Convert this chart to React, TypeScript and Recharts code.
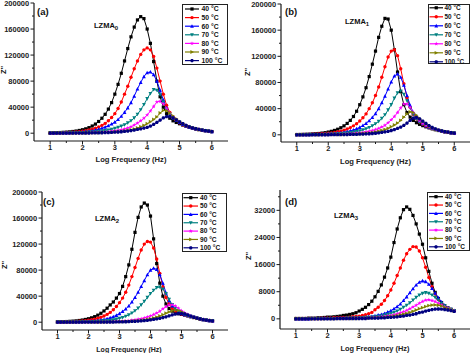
import React from 'react';
import { LineChart, Line, XAxis, YAxis } from 'recharts';

// log frequency (Hz) sampling, shared by every series
const logFreq = [
  1.0, 1.1, 1.2, 1.3, 1.4, 1.5, 1.6, 1.7, 1.8, 1.9,
  2.0, 2.1, 2.2, 2.3, 2.4, 2.5, 2.6, 2.7, 2.8, 2.9,
  3.0, 3.1, 3.2, 3.3, 3.4, 3.5, 3.6, 3.7, 3.8, 3.9,
  4.0, 4.1, 4.2, 4.3, 4.4, 4.5, 4.6, 4.7, 4.8, 4.9,
  5.0, 5.1, 5.2, 5.3, 5.4, 5.5, 5.6, 5.7, 5.8, 5.9,
  6.0,
];

const temps = ['40 °C', '50 °C', '60 °C', '70 °C', '80 °C', '90 °C', '100 °C'];
const colors = ['#000000', '#ff0000', '#0000ff', '#008080', '#ff00ff', '#808000', '#000080'];

const xTicks = [1, 1.5, 2, 2.5, 3, 3.5, 4, 4.5, 5, 5.5, 6];
const yTicksBig = [0, 20000, 40000, 60000, 80000, 100000, 120000, 140000, 160000, 180000, 200000];
const yTicksSmall = [0, 4000, 8000, 12000, 16000, 20000, 24000, 28000, 32000, 36000];

// Z'' values in units of 1000
// (a) LZMA0
const a40 = [0.5, 0.6, 0.8, 1, 1.3, 1.6, 2, 2.6, 3.3, 4.2, 5.3, 6.7, 8.5, 11, 14, 18, 23, 29, 37, 47, 60, 75, 92, 111, 130, 148, 163, 174, 179, 176, 160, 138, 110, 80, 56, 40, 30, 23, 19, 16.5, 14.5, 12.5, 10.8, 9.2, 7.8, 6.6, 5.5, 4.6, 3.8, 3.1, 2.5];
const a50 = [0.3, 0.4, 0.5, 0.6, 0.8, 1, 1.2, 1.5, 1.9, 2.4, 3, 3.8, 4.8, 6, 7.6, 9.6, 12, 15, 19, 24, 30, 38, 48, 60, 72, 86, 99, 111, 121, 128, 131, 128, 118, 100, 80, 60, 43, 32, 25, 20, 16, 13, 11, 9.3, 7.9, 6.7, 5.6, 4.7, 3.9, 3.1, 2.5];
const a60 = [0.2, 0.2, 0.3, 0.4, 0.5, 0.6, 0.7, 0.9, 1.1, 1.4, 2, 2.5, 3.1, 3.9, 4.9, 6.1, 7.6, 9.4, 11.6, 14.1, 17, 21, 26, 32, 39, 47, 57, 68, 78, 87, 93, 94, 90, 80, 66, 51, 39, 30, 24, 20, 16.5, 13.5, 11.2, 9.4, 8, 6.8, 5.7, 4.7, 3.9, 3.1, 2.5];
const a70 = [0.1, 0.1, 0.2, 0.2, 0.3, 0.3, 0.4, 0.5, 0.6, 0.8, 1, 1.2, 1.5, 1.8, 2.2, 2.7, 3.3, 4, 4.9, 6, 7.3, 8.9, 10.8, 13, 15.7, 19, 23.5, 29, 36, 44, 53, 61, 67, 66, 59, 48, 37, 29, 24, 20, 17, 14, 11.5, 9.5, 8, 6.8, 5.7, 4.7, 3.9, 3.1, 2.5];
const a80 = [0.1, 0.1, 0.1, 0.1, 0.2, 0.2, 0.2, 0.3, 0.3, 0.4, 0.5, 0.6, 0.7, 0.9, 1.1, 1.3, 1.6, 2, 2.4, 3, 3.6, 4.4, 5.4, 6.6, 8, 10, 12.5, 15.5, 19, 23, 28, 34, 41, 48, 49, 45, 38, 31, 25, 21, 17.5, 14.5, 12, 9.8, 8.1, 6.8, 5.7, 4.7, 3.9, 3.1, 2.5];
const a90 = [0, 0, 0.1, 0.1, 0.1, 0.1, 0.1, 0.2, 0.2, 0.2, 0.3, 0.3, 0.4, 0.5, 0.6, 0.7, 0.9, 1.1, 1.3, 1.6, 2, 2.4, 2.9, 3.6, 4.4, 5.4, 6.6, 8.1, 9.9, 12, 14.6, 17.6, 21, 25, 31, 35, 34.5, 31, 26.5, 22, 18, 15, 12.3, 10, 8.2, 6.9, 5.7, 4.7, 3.9, 3.1, 2.5];
const a100 = [0, 0, 0, 0, 0.1, 0.1, 0.1, 0.1, 0.1, 0.1, 0.2, 0.3, 0.3, 0.4, 0.5, 0.6, 0.7, 0.9, 1, 1.2, 1.5, 1.8, 2.2, 2.7, 3.3, 4, 4.8, 5.7, 6.7, 7.8, 9, 11, 13.5, 16.5, 20, 23.5, 25.5, 25.5, 23.5, 20.5, 17.5, 14.5, 12, 9.8, 8.1, 6.8, 5.7, 4.7, 3.9, 3.1, 2.5];

// (b) LZMA1
const b40 = [0.4, 0.5, 0.6, 0.8, 1, 1.3, 1.6, 2, 2.6, 3.3, 4.2, 5.3, 6.7, 8.5, 10.8, 13.7, 17.4, 22, 28, 36, 46, 58, 72, 89, 108, 128, 149, 166, 178, 177, 160, 130, 96, 66, 46, 34, 27, 22, 18.5, 16, 14, 12.2, 10.6, 9.1, 7.8, 6.6, 5.5, 4.6, 3.8, 3.1, 2.5];
const b50 = [0.3, 0.3, 0.4, 0.5, 0.6, 0.8, 1, 1.2, 1.5, 1.9, 2.4, 3, 3.7, 4.6, 5.7, 7.1, 8.8, 11, 13.7, 17, 21, 26, 32, 40, 49, 60, 73, 88, 104, 119, 128, 130, 121, 101, 78, 57, 42, 31, 24, 19.5, 16, 13.3, 11.2, 9.5, 8, 6.8, 5.7, 4.7, 3.9, 3.1, 2.5];
const b60 = [0.2, 0.2, 0.3, 0.3, 0.4, 0.5, 0.6, 0.7, 0.9, 1.1, 1.4, 1.7, 2.1, 2.6, 3.2, 4, 4.9, 6.1, 7.5, 9.3, 11.5, 14.2, 17.5, 21.5, 26.5, 32.5, 40, 49, 59, 70, 81, 90, 93, 88, 76, 60, 45, 34, 26, 21, 17, 14, 11.6, 9.7, 8.1, 6.8, 5.7, 4.7, 3.9, 3.1, 2.5];
const b70 = [0.1, 0.1, 0.2, 0.2, 0.2, 0.3, 0.3, 0.4, 0.5, 0.6, 0.8, 1, 1.2, 1.5, 1.8, 2.2, 2.7, 3.3, 4.1, 5, 6.1, 7.5, 9.2, 11.2, 13.7, 16.8, 20.5, 25, 30.5, 38, 46, 56, 64, 67, 62, 52, 41, 31, 24, 19.5, 17, 14.5, 12, 9.9, 8.2, 6.9, 5.7, 4.7, 3.9, 3.1, 2.5];
const b80 = [0.1, 0.1, 0.1, 0.1, 0.1, 0.2, 0.2, 0.2, 0.3, 0.3, 0.4, 0.5, 0.6, 0.7, 0.9, 1.1, 1.3, 1.6, 2, 2.4, 3, 3.6, 4.4, 5.4, 6.6, 8, 9.8, 12, 14.6, 18.5, 23, 28, 34, 41, 47, 47, 42, 34, 27, 21.5, 17.5, 14.5, 12.2, 10.1, 8.4, 7, 5.8, 4.8, 3.9, 3.1, 2.5];
const b90 = [0, 0, 0.1, 0.1, 0.1, 0.1, 0.1, 0.1, 0.2, 0.2, 0.2, 0.3, 0.3, 0.4, 0.5, 0.6, 0.7, 0.9, 1.1, 1.3, 1.6, 2, 2.4, 2.9, 3.6, 4.4, 5.4, 6.6, 8.1, 9.9, 12.5, 15, 18, 22, 27, 32, 35, 34, 30, 25, 20.5, 16.5, 13, 10.5, 8.5, 7, 5.8, 4.8, 3.9, 3.1, 2.5];
const b100 = [0, 0, 0, 0, 0, 0.1, 0.1, 0.1, 0.1, 0.1, 0.1, 0.2, 0.2, 0.2, 0.3, 0.3, 0.4, 0.5, 0.6, 0.7, 0.9, 1.1, 1.3, 1.6, 2, 2.4, 3, 3.6, 4.4, 5.4, 6.6, 8, 9.7, 11.8, 14.5, 18, 22, 25.5, 26.5, 24.5, 21, 17.5, 14, 11.2, 9, 7.3, 6, 4.9, 4, 3.2, 2.5];

// (c) LZMA2
const c40 = [0.5, 0.6, 0.8, 1, 1.3, 1.6, 2, 2.6, 3.3, 4.2, 5.3, 6.7, 8.5, 10.8, 13.7, 17.3, 21.5, 26.5, 31, 37, 44, 55, 70, 88, 112, 138, 161, 177, 183, 180, 163, 128, 90, 60, 40, 28, 21, 17, 14.5, 13, 12, 11, 9.8, 8.5, 7.2, 6, 5, 4, 3.2, 2.5, 2];
const c50 = [0.3, 0.4, 0.5, 0.6, 0.7, 0.9, 1.1, 1.4, 1.8, 2.3, 2.9, 3.7, 4.7, 6, 7.6, 9.6, 12, 15, 19, 24, 30, 37, 46, 57, 70, 84, 98, 111, 120, 124, 123, 114, 97, 75, 54, 38, 28, 21, 17, 14.5, 12.5, 11.2, 9.9, 8.6, 7.3, 6.1, 5, 4, 3.2, 2.5, 2];
const c60 = [0.2, 0.2, 0.2, 0.3, 0.4, 0.5, 0.6, 0.7, 0.9, 1.1, 1.4, 1.7, 2.2, 2.7, 3.4, 4.3, 5.4, 6.8, 8.5, 10.6, 13.2, 16.4, 20.3, 25, 31, 38, 46, 55, 64, 73, 80, 83, 81, 73, 60, 45, 33, 25, 19.5, 16, 13.3, 11.6, 10.1, 8.7, 7.4, 6.2, 5, 4, 3.2, 2.5, 2];
const c70 = [0.1, 0.1, 0.1, 0.2, 0.2, 0.2, 0.3, 0.3, 0.4, 0.5, 0.6, 0.8, 1, 1.2, 1.5, 1.9, 2.4, 3, 3.7, 4.6, 5.8, 7.2, 9, 11.2, 14, 17.4, 21.5, 26.5, 32, 38, 44, 49, 53, 54, 51, 44, 35, 27, 21, 17, 14, 12, 10.3, 8.8, 7.5, 6.2, 5, 4, 3.2, 2.5, 2];
const c80 = [0, 0, 0, 0.1, 0.1, 0.1, 0.1, 0.1, 0.1, 0.2, 0.2, 0.2, 0.3, 0.3, 0.4, 0.5, 0.6, 0.7, 0.9, 1.1, 1.3, 1.6, 2, 2.4, 3, 3.6, 4.4, 5.4, 6.6, 8, 9.7, 11.7, 14, 16.7, 20.5, 24, 26.5, 27, 25, 21.5, 17.5, 14.5, 11.8, 9.6, 7.8, 6.3, 5.1, 4.1, 3.2, 2.5, 2];
const c90 = [0, 0, 0, 0, 0, 0.1, 0.1, 0.1, 0.1, 0.1, 0.1, 0.1, 0.2, 0.2, 0.2, 0.3, 0.3, 0.4, 0.5, 0.6, 0.7, 0.9, 1.1, 1.3, 1.6, 2, 2.4, 3, 3.6, 4.4, 5.3, 6.4, 7.8, 9.5, 11.5, 13.7, 15.8, 17.5, 18.5, 18, 16, 13.5, 11, 8.8, 7.1, 5.8, 4.8, 3.9, 3.1, 2.5, 2];
const c100 = [0, 0, 0, 0, 0, 0, 0.1, 0.1, 0.1, 0.1, 0.1, 0.1, 0.1, 0.1, 0.2, 0.2, 0.2, 0.3, 0.3, 0.4, 0.5, 0.6, 0.7, 0.9, 1.1, 1.3, 1.6, 2, 2.4, 2.9, 3.5, 4.2, 5, 6, 7.1, 8.3, 9.7, 11.1, 12.4, 13.3, 13.5, 12.8, 11.2, 9.3, 7.6, 6.2, 5, 4, 3.2, 2.5, 2];

// (d) LZMA3
const d40 = [0.1, 0.1, 0.1, 0.1, 0.2, 0.2, 0.2, 0.3, 0.3, 0.4, 0.5, 0.5, 0.6, 0.7, 0.8, 1, 1.1, 1.3, 1.5, 1.8, 2.3, 2.8, 3.4, 4.2, 5.2, 6.5, 8.1, 10, 12.3, 15, 18.2, 22.5, 26.5, 29.8, 32.2, 33, 32.3, 30.5, 28, 25, 22, 18, 14, 10.5, 7.8, 6, 4.8, 3.9, 3.3, 2.8, 2.4];
const d50 = [0.1, 0.1, 0.1, 0.1, 0.1, 0.1, 0.1, 0.1, 0.2, 0.2, 0.2, 0.2, 0.3, 0.3, 0.3, 0.4, 0.4, 0.5, 0.6, 0.7, 0.8, 1, 1.2, 1.5, 1.9, 2.7, 3.4, 4.3, 5.4, 6.8, 8.5, 10.5, 12.8, 15, 17.3, 19.2, 20.5, 21.3, 21.2, 20, 18, 15.2, 12.2, 9.5, 7.3, 5.7, 4.6, 3.8, 3.2, 2.8, 2.4];
const d60 = [0, 0, 0, 0, 0, 0.1, 0.1, 0.1, 0.1, 0.1, 0.1, 0.1, 0.1, 0.1, 0.2, 0.2, 0.2, 0.2, 0.3, 0.3, 0.4, 0.4, 0.5, 0.6, 0.7, 0.9, 1.1, 1.3, 1.6, 2, 2.4, 3, 3.6, 4.4, 5.4, 6.5, 7.7, 8.9, 10, 10.8, 11.2, 11, 10.2, 9, 7.6, 6.2, 5, 4, 3.3, 2.8, 2.4];
const d70 = [0, 0, 0, 0, 0, 0, 0, 0.1, 0.1, 0.1, 0.1, 0.1, 0.1, 0.1, 0.1, 0.1, 0.2, 0.2, 0.2, 0.2, 0.3, 0.3, 0.4, 0.4, 0.5, 0.6, 0.7, 0.9, 1.1, 1.3, 1.6, 1.9, 2.3, 2.8, 3.4, 4, 4.7, 5.5, 6.3, 7, 7.5, 7.7, 7.5, 7, 6.3, 5.5, 4.6, 3.8, 3.2, 2.8, 2.4];
const d80 = [0, 0, 0, 0, 0, 0, 0, 0, 0, 0.1, 0.1, 0.1, 0.1, 0.1, 0.1, 0.1, 0.1, 0.1, 0.2, 0.2, 0.2, 0.2, 0.3, 0.3, 0.4, 0.4, 0.5, 0.6, 0.7, 0.9, 1, 1.2, 1.5, 1.8, 2.1, 2.5, 3, 3.5, 4, 4.6, 5.1, 5.5, 5.6, 5.4, 5.1, 4.6, 4, 3.5, 3.1, 2.7, 2.4];
const d90 = [0, 0, 0, 0, 0, 0, 0, 0, 0, 0, 0.1, 0.1, 0.1, 0.1, 0.1, 0.1, 0.1, 0.1, 0.1, 0.1, 0.1, 0.2, 0.2, 0.2, 0.3, 0.3, 0.4, 0.4, 0.5, 0.6, 0.7, 0.8, 1, 1.2, 1.4, 1.6, 1.9, 2.2, 2.6, 3, 3.3, 3.6, 3.9, 4.05, 4.1, 4, 3.8, 3.4, 3, 2.7, 2.3];
const d100 = [0, 0, 0, 0, 0, 0, 0, 0, 0, 0, 0, 0, 0, 0.1, 0.1, 0.1, 0.1, 0.1, 0.1, 0.1, 0.1, 0.1, 0.1, 0.2, 0.2, 0.2, 0.2, 0.3, 0.3, 0.4, 0.4, 0.5, 0.6, 0.7, 0.8, 1, 1.1, 1.3, 1.5, 1.8, 2, 2.3, 2.5, 2.7, 2.85, 2.9, 2.85, 2.75, 2.6, 2.4, 2.2];

const FONT = '"Liberation Sans", Arial, sans-serif';
const AXIS = '#1a1a1a';

const toRows = (series: number[][]) =>
  logFreq.map((x, i) => {
    const row: Record<string, number> = { x };
    series.forEach((s, k) => {
      row[`t${k}`] = s[i] * 1000;
    });
    return row;
  });

// panel layout: chart box, plot margins and annotation spots
const panels = [
  {
    id: 'a', sub: '0', series: [a40, a50, a60, a70, a80, a90, a100],
    left: 0, top: 0, w: 237, h: 176, yW: 34, mTop: 3, mRight: 9, xH: 35,
    yDomain: [-12000, 200000], yTicks: yTicksBig, yMajor: 40000,
    tagX: 37, tagY: 15, nameX: 94, nameY: 28, zX: 6, zY: 70, xlDy: 21, xlDx: 0, xlFs: 7.6,
    lg: { left: 182, top: 4, w: 46, h: 61, first: 5, step: 8.6, lx0: 3, lx1: 17, tx: 19.5, fs: 6.8 },
  },
  {
    id: 'b', sub: '1', series: [b40, b50, b60, b70, b80, b90, b100],
    left: 237, top: 0, w: 237, h: 176, yW: 44, mTop: 4, mRight: 4, xH: 34,
    yDomain: [-11000, 200000], yTicks: yTicksBig, yMajor: 40000,
    tagX: 285, tagY: 15, nameX: 345, nameY: 24, zX: 250, zY: 72, xlDy: 22, xlDx: 0, xlFs: 7.6,
    lg: { left: 428, top: 4, w: 42, h: 60, first: 3.8, step: 9, lx0: 1.5, lx1: 15, tx: 16.5, fs: 6.4 },
  },
  {
    id: 'c', sub: '2', series: [c40, c50, c60, c70, c80, c90, c100],
    left: 0, top: 176, w: 237, h: 177, yW: 42, mTop: 16, mRight: 9, xH: 23,
    yDomain: [-12000, 200000], yTicks: yTicksBig, yMajor: 40000,
    tagX: 43, tagY: 205, nameX: 95, nameY: 221, zX: 7, zY: 265, xlDy: 21.5, xlDx: -6, xlFs: 7,
    lg: { left: 182, top: 193, w: 45, h: 59, first: 4.7, step: 8.35, lx0: 1.5, lx1: 16, tx: 18, fs: 6.6 },
  },
  {
    id: 'd', sub: '3', series: [d40, d50, d60, d70, d80, d90, d100],
    left: 237, top: 176, w: 237, h: 177, yW: 43, mTop: 14, mRight: 4, xH: 24,
    yDomain: [-3000, 38000], yTicks: yTicksSmall, yMajor: 8000,
    tagX: 285, tagY: 205, nameX: 334, nameY: 218, zX: 251, zY: 256, xlDy: 21.5, xlDx: 0, xlFs: 7.4,
    lg: { left: 427, top: 192, w: 43, h: 59, first: 4.7, step: 8.35, lx0: 2, lx1: 16, tx: 18, fs: 6.5 },
  },
];

const Marker = ({ shape, cx, cy, color }: { shape: number; cx: number; cy: number; color: string }) => {
  const s = 1.6;
  if (cx == null || cy == null) return null;
  if (shape === 0) return <rect x={cx - s} y={cy - s} width={2 * s} height={2 * s} fill={color} />;
  if (shape === 1) return <circle cx={cx} cy={cy} r={s + 0.1} fill={color} />;
  if (shape === 2)
    return <polygon points={`${cx},${cy - s - 0.4} ${cx + s + 0.3},${cy + s} ${cx - s - 0.3},${cy + s}`} fill={color} />;
  if (shape === 3)
    return <polygon points={`${cx},${cy + s + 0.4} ${cx + s + 0.3},${cy - s} ${cx - s - 0.3},${cy - s}`} fill={color} />;
  if (shape === 4) {
    const pts: string[] = [];
    for (let k = 0; k < 10; k++) {
      const r = k % 2 === 0 ? 2.2 : 0.9;
      const a = (Math.PI / 5) * k - Math.PI / 2;
      pts.push(`${cx + r * Math.cos(a)},${cy + r * Math.sin(a)}`);
    }
    return <polygon points={pts.join(' ')} fill={color} />;
  }
  if (shape === 5)
    return <polygon points={`${cx + s + 0.4},${cy} ${cx - s},${cy - s - 0.3} ${cx - s},${cy + s + 0.3}`} fill={color} />;
  const pts: string[] = [];
  for (let k = 0; k < 6; k++) {
    const a = (Math.PI / 3) * k;
    pts.push(`${cx + 1.9 * Math.cos(a)},${cy + 1.9 * Math.sin(a)}`);
  }
  return <polygon points={pts.join(' ')} fill={color} />;
};

const XTick = (props: any) => {
  const { x, y, payload } = props;
  const major = Number.isInteger(payload.value);
  return (
    <g>
      <line x1={x} x2={x} y1={y} y2={y + (major ? 3.5 : 2)} stroke={AXIS} strokeWidth={1} />
      {major && (
        <text x={x} y={y + 9} textAnchor="middle" fontSize={7.5} fontWeight="bold" fontFamily={FONT} fill="#222">
          {payload.value}
        </text>
      )}
    </g>
  );
};

const makeYTick = (majorStep: number) => (props: any) => {
  const { x, y, payload } = props;
  const major = payload.value % majorStep === 0;
  return (
    <g>
      <line x1={x} x2={x - (major ? 3.5 : 2)} y1={y} y2={y} stroke={AXIS} strokeWidth={1} />
      {major && (
        <text x={x - 4.8} y={y + 2.6} textAnchor="end" fontSize={7.5} fontWeight="bold" fontFamily={FONT} fill="#222">
          {payload.value}
        </text>
      )}
    </g>
  );
};

const XTitle = (props: any) => {
  const { viewBox, dy, dx, fs } = props;
  if (!viewBox) return null;
  return (
    <text x={viewBox.x + viewBox.width / 2 + dx} y={viewBox.y + dy} textAnchor="middle" fontSize={fs} fontWeight="bold" fontFamily={FONT} fill="#222">
      Log Frequency (Hz)
    </text>
  );
};

const Panel = ({ p }: { p: (typeof panels)[number] }) => {
  const rows = toRows(p.series);
  const YTick = makeYTick(p.yMajor);
  return (
    <div style={{ position: 'absolute', left: p.left, top: p.top }}>
      <LineChart width={p.w} height={p.h} data={rows} margin={{ top: p.mTop, right: p.mRight, bottom: 0, left: 0 }}>
        <XAxis
          dataKey="x"
          type="number"
          domain={[0.5, 6.5]}
          ticks={xTicks}
          interval={0}
          height={p.xH}
          tickSize={0}
          tickMargin={0}
          tickLine={false}
          tick={<XTick />}
          axisLine={{ stroke: AXIS, strokeWidth: 1.2 }}
          label={<XTitle dy={p.xlDy} dx={p.xlDx} fs={p.xlFs} />}
        />
        <XAxis xAxisId="top" orientation="top" type="number" domain={[0.5, 6.5]} height={0} tick={false} tickLine={false} axisLine={{ stroke: AXIS, strokeWidth: 1 }} />
        <YAxis
          type="number"
          domain={p.yDomain}
          ticks={p.yTicks}
          interval={0}
          width={p.yW}
          tickSize={0}
          tickMargin={0}
          tickLine={false}
          tick={<YTick />}
          axisLine={{ stroke: AXIS, strokeWidth: 1.2 }}
        />
        <YAxis yAxisId="right" orientation="right" type="number" domain={p.yDomain} width={0} tick={false} tickLine={false} axisLine={{ stroke: AXIS, strokeWidth: 1 }} />
        {temps.map((t, k) => (
          <Line
            key={t}
            dataKey={`t${k}`}
            name={t}
            type="linear"
            stroke={colors[k]}
            strokeWidth={1}
            isAnimationActive={false}
            activeDot={false}
            dot={(d: any) => <Marker key={`m${k}-${d.index}`} shape={k} cx={d.cx} cy={d.cy} color={colors[k]} />}
          />
        ))}
      </LineChart>
    </div>
  );
};

const Annotations = () => (
  <svg width={474} height={353} style={{ position: 'absolute', left: 0, top: 0, pointerEvents: 'none' }}>
    {panels.map((p) => (
      <g key={p.id} fontFamily={FONT} fontWeight="bold" fill="#111">
        <text x={p.tagX} y={p.tagY} fontSize={9.5}>({p.id})</text>
        <text x={p.nameX} y={p.nameY} fontSize={7.5}>
          LZMA<tspan fontSize={6} dy={2}>{p.sub}</tspan>
        </text>
        <text x={p.zX} y={p.zY} fontSize={7.5} textAnchor="middle" transform={`rotate(-90 ${p.zX} ${p.zY})`}>
          Z''
        </text>
        <g transform={`translate(${p.lg.left},${p.lg.top})`}>
          <rect x={0.5} y={0.5} width={p.lg.w - 1} height={p.lg.h - 1} fill="#fff" stroke="#222" strokeWidth={1} />
          {temps.map((t, k) => {
            const cy = p.lg.first + k * p.lg.step;
            return (
              <g key={t}>
                <line x1={p.lg.lx0} x2={p.lg.lx1} y1={cy} y2={cy} stroke={colors[k]} strokeWidth={1.2} />
                <Marker shape={k} cx={(p.lg.lx0 + p.lg.lx1) / 2} cy={cy} color={colors[k]} />
                <text x={p.lg.tx} y={cy + 2.3} fontSize={p.lg.fs}>
                  {t}
                </text>
              </g>
            );
          })}
        </g>
      </g>
    ))}
  </svg>
);

export default function App() {
  return (
    <div style={{ position: 'absolute', left: 0, top: 0, width: 474, height: 353, background: '#fff', overflow: 'hidden' }}>
      {panels.map((p) => (
        <Panel key={p.id} p={p} />
      ))}
      <Annotations />
    </div>
  );
}
